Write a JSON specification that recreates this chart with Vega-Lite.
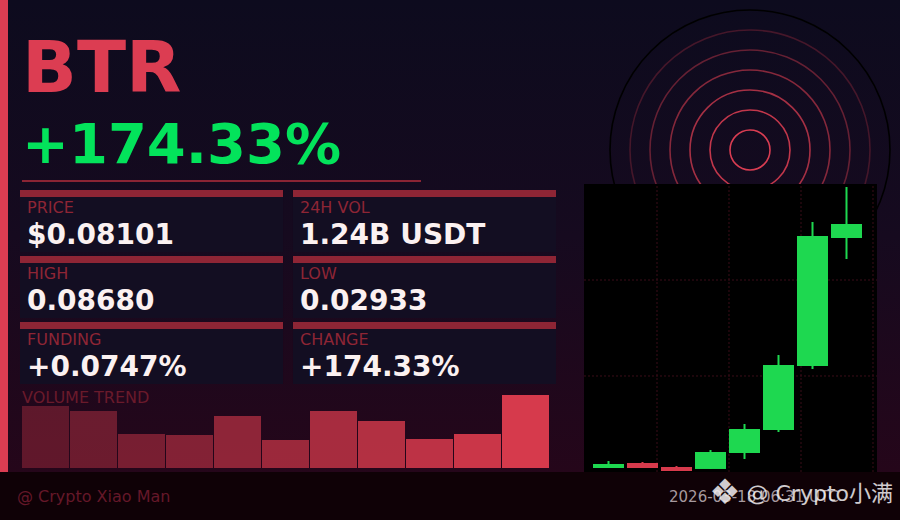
{
  "$schema": "https://vega.github.io/schema/vega-lite/v6.json",
  "width": 900,
  "height": 520,
  "autosize": {"type": "none"},
  "padding": 0,
  "background": "#0f0106",
  "config": {
    "view": {"stroke": null},
    "font": "DejaVu Sans",
    "axis": {"disable": true},
    "legend": {"disable": true}
  },
  "resolve": {
    "scale": {"x": "independent", "y": "independent", "color": "independent", "opacity": "independent", "size": "independent"}
  },
  "layer": [
    {
      "data": {"values": [{"area": "backdrop"}]},
      "mark": {
        "type": "rect",
        "color": {
          "gradient": "linear", "x1": 0, "y1": 0, "x2": 0, "y2": 1,
          "stops": [
            {"offset": 0, "color": "#0d0b1e"},
            {"offset": 0.5, "color": "#160a1f"},
            {"offset": 1, "color": "#25061a"}
          ]
        }
      },
      "encoding": {
        "x": {"datum": 0, "type": "quantitative", "scale": {"domain": [0, 1], "range": [0, 900]}},
        "x2": {"datum": 1},
        "y": {"datum": 0, "type": "quantitative", "scale": {"domain": [0, 1], "range": [0, 472]}},
        "y2": {"datum": 1}
      }
    },
    {
      "data": {"values": [{"ring": 1}, {"ring": 2}, {"ring": 3}, {"ring": 4}, {"ring": 5}, {"ring": 6}, {"ring": 7}]},
      "mark": {"type": "point", "shape": "circle", "filled": false, "strokeWidth": 1.6, "opacity": 1},
      "encoding": {
        "x": {"datum": 1, "type": "quantitative", "scale": {"domain": [0, 1], "range": [0, 750]}},
        "y": {"datum": 1, "type": "quantitative", "scale": {"domain": [0, 1], "range": [0, 150]}},
        "size": {"field": "ring", "type": "quantitative", "scale": {"type": "pow", "exponent": 2, "domain": [0, 7], "range": [0, 78400]}},
        "color": {
          "field": "ring", "type": "ordinal",
          "scale": {"domain": [1, 2, 3, 4, 5, 6, 7], "range": ["#d93d52", "#c2374b", "#a53044", "#85283b", "#652033", "#45172a", "#000000"]}
        }
      }
    },
    {
      "data": {"values": [{"area": "accent"}]},
      "mark": {"type": "rect", "color": "#dc3d52"},
      "encoding": {
        "x": {"datum": 0, "type": "quantitative", "scale": {"domain": [0, 1], "range": [0, 8]}},
        "x2": {"datum": 1},
        "y": {"datum": 0, "type": "quantitative", "scale": {"domain": [0, 1], "range": [0, 472]}},
        "y2": {"datum": 1}
      }
    },
    {
      "data": {"values": [{"symbol": "BTR", "change": "+174.33%"}]},
      "layer": [
        {
          "mark": {"type": "text", "align": "left", "baseline": "alphabetic", "fontSize": 72, "fontWeight": "bold", "color": "#dc3d52"},
          "encoding": {
            "x": {"datum": 0, "type": "quantitative", "scale": {"domain": [0, 1], "range": [22, 421]}},
            "y": {"datum": 0, "type": "quantitative", "scale": {"domain": [0, 1], "range": [92, 163]}},
            "text": {"field": "symbol"}
          }
        },
        {
          "mark": {"type": "text", "align": "left", "baseline": "alphabetic", "fontSize": 56, "fontWeight": "bold", "color": "#03e35b"},
          "encoding": {
            "x": {"datum": 0, "type": "quantitative", "scale": {"domain": [0, 1], "range": [22, 421]}},
            "y": {"datum": 1, "type": "quantitative", "scale": {"domain": [0, 1], "range": [92, 163]}},
            "text": {"field": "change"}
          }
        }
      ]
    },
    {
      "data": {"values": [{"area": "divider"}]},
      "mark": {"type": "rule", "color": "#8b2434", "strokeWidth": 2},
      "encoding": {
        "x": {"datum": 0, "type": "quantitative", "scale": {"domain": [0, 1], "range": [22, 421]}},
        "x2": {"datum": 1},
        "y": {"datum": 0, "type": "quantitative", "scale": {"domain": [0, 1], "range": [181, 520]}}
      }
    },
    {
      "data": {
        "values": [
          {"left_label": "PRICE", "left_value": "$0.08101", "right_label": "24H VOL", "right_value": "1.24B USDT"},
          {"left_label": "HIGH", "left_value": "0.08680", "right_label": "LOW", "right_value": "0.02933"},
          {"left_label": "FUNDING", "left_value": "+0.0747%", "right_label": "CHANGE", "right_value": "+174.33%"}
        ]
      },
      "layer": [
        {
          "mark": {"type": "rect", "color": "#130e22"},
          "encoding": {
            "x": {"datum": "left", "type": "nominal", "scale": {"domain": ["left", "right"], "range": [20, 556], "paddingInner": 0.0366, "paddingOuter": 0}},
            "y": {"field": "left_label", "type": "nominal", "sort": null, "scale": {"domain": ["PRICE", "HIGH", "FUNDING"], "range": [190, 384], "paddingInner": 0.0606, "paddingOuter": 0}}
          }
        },
        {
          "mark": {"type": "rect", "color": "#130e22"},
          "encoding": {
            "x": {"datum": "right", "type": "nominal", "scale": {"domain": ["left", "right"], "range": [20, 556], "paddingInner": 0.0366, "paddingOuter": 0}},
            "y": {"field": "left_label", "type": "nominal", "sort": null, "scale": {"domain": ["PRICE", "HIGH", "FUNDING"], "range": [190, 384], "paddingInner": 0.0606, "paddingOuter": 0}}
          }
        },
        {
          "mark": {"type": "rect", "color": "#8e2535", "height": 7, "baseline": "top"},
          "encoding": {
            "x": {"datum": "left", "type": "nominal", "scale": {"domain": ["left", "right"], "range": [20, 556], "paddingInner": 0.0366, "paddingOuter": 0}},
            "y": {"field": "left_label", "type": "nominal", "sort": null, "scale": {"domain": ["PRICE", "HIGH", "FUNDING"], "range": [190, 384], "paddingInner": 0.0606, "paddingOuter": 0}}
          }
        },
        {
          "mark": {"type": "rect", "color": "#8e2535", "height": 7, "baseline": "top"},
          "encoding": {
            "x": {"datum": "right", "type": "nominal", "scale": {"domain": ["left", "right"], "range": [20, 556], "paddingInner": 0.0366, "paddingOuter": 0}},
            "y": {"field": "left_label", "type": "nominal", "sort": null, "scale": {"domain": ["PRICE", "HIGH", "FUNDING"], "range": [190, 384], "paddingInner": 0.0606, "paddingOuter": 0}}
          }
        },
        {
          "mark": {"type": "text", "align": "left", "baseline": "alphabetic", "dx": 7, "dy": 23, "fontSize": 16, "color": "#8e2535"},
          "encoding": {
            "x": {"datum": "left", "type": "nominal", "bandPosition": 0, "scale": {"domain": ["left", "right"], "range": [20, 556], "paddingInner": 0.0366, "paddingOuter": 0}},
            "y": {"field": "left_label", "type": "nominal", "sort": null, "bandPosition": 0, "scale": {"domain": ["PRICE", "HIGH", "FUNDING"], "range": [190, 384], "paddingInner": 0.0606, "paddingOuter": 0}},
            "text": {"field": "left_label"}
          }
        },
        {
          "mark": {"type": "text", "align": "left", "baseline": "alphabetic", "dx": 7, "dy": 23, "fontSize": 16, "color": "#8e2535"},
          "encoding": {
            "x": {"datum": "right", "type": "nominal", "bandPosition": 0, "scale": {"domain": ["left", "right"], "range": [20, 556], "paddingInner": 0.0366, "paddingOuter": 0}},
            "y": {"field": "left_label", "type": "nominal", "sort": null, "bandPosition": 0, "scale": {"domain": ["PRICE", "HIGH", "FUNDING"], "range": [190, 384], "paddingInner": 0.0606, "paddingOuter": 0}},
            "text": {"field": "right_label"}
          }
        },
        {
          "mark": {"type": "text", "align": "left", "baseline": "alphabetic", "dx": 7, "dy": 54, "fontSize": 28, "fontWeight": "bold", "color": "#fbf1f1"},
          "encoding": {
            "x": {"datum": "left", "type": "nominal", "bandPosition": 0, "scale": {"domain": ["left", "right"], "range": [20, 556], "paddingInner": 0.0366, "paddingOuter": 0}},
            "y": {"field": "left_label", "type": "nominal", "sort": null, "bandPosition": 0, "scale": {"domain": ["PRICE", "HIGH", "FUNDING"], "range": [190, 384], "paddingInner": 0.0606, "paddingOuter": 0}},
            "text": {"field": "left_value"}
          }
        },
        {
          "mark": {"type": "text", "align": "left", "baseline": "alphabetic", "dx": 7, "dy": 54, "fontSize": 28, "fontWeight": "bold", "color": "#fbf1f1"},
          "encoding": {
            "x": {"datum": "right", "type": "nominal", "bandPosition": 0, "scale": {"domain": ["left", "right"], "range": [20, 556], "paddingInner": 0.0366, "paddingOuter": 0}},
            "y": {"field": "left_label", "type": "nominal", "sort": null, "bandPosition": 0, "scale": {"domain": ["PRICE", "HIGH", "FUNDING"], "range": [190, 384], "paddingInner": 0.0606, "paddingOuter": 0}},
            "text": {"field": "right_value"}
          }
        }
      ]
    },
    {
      "data": {"values": [{"section": "VOLUME TREND"}]},
      "mark": {"type": "text", "align": "left", "baseline": "alphabetic", "fontSize": 16, "color": "#6a1a2b"},
      "encoding": {
        "x": {"datum": 0, "type": "quantitative", "scale": {"domain": [0, 1], "range": [22, 900]}},
        "y": {"datum": 0, "type": "quantitative", "scale": {"domain": [0, 1], "range": [403, 520]}},
        "text": {"field": "section"}
      }
    },
    {
      "data": {
        "values": [
          {"t": 1, "volume": 124}, {"t": 2, "volume": 114}, {"t": 3, "volume": 68}, {"t": 4, "volume": 66},
          {"t": 5, "volume": 104}, {"t": 6, "volume": 56}, {"t": 7, "volume": 114}, {"t": 8, "volume": 94},
          {"t": 9, "volume": 58}, {"t": 10, "volume": 68}, {"t": 11, "volume": 146}
        ]
      },
      "mark": {"type": "bar", "color": "#d63a4c"},
      "encoding": {
        "x": {"field": "t", "type": "ordinal", "scale": {"range": [22, 549], "paddingInner": 0.0208, "paddingOuter": 0}},
        "y": {"field": "volume", "type": "quantitative", "scale": {"range": [468, 395], "nice": false}},
        "opacity": {"field": "t", "type": "quantitative", "scale": {"domain": [1, 11], "range": [0.34, 1]}}
      }
    },
    {
      "data": {"values": [{"area": "candle panel"}]},
      "mark": {"type": "rect", "color": "#000000"},
      "encoding": {
        "x": {"datum": 0, "type": "quantitative", "scale": {"domain": [0, 1], "range": [584, 877]}},
        "x2": {"datum": 1},
        "y": {"datum": 0, "type": "quantitative", "scale": {"domain": [0, 1], "range": [184, 472]}},
        "y2": {"datum": 1}
      }
    },
    {
      "data": {
        "values": [
          {"i": 1, "open": 0.02994, "high": 0.03135, "low": 0.02994, "close": 0.03075},
          {"i": 2, "open": 0.03095, "high": 0.03115, "low": 0.02994, "close": 0.02994},
          {"i": 3, "open": 0.03014, "high": 0.03034, "low": 0.02933, "close": 0.02933},
          {"i": 4, "open": 0.02974, "high": 0.03358, "low": 0.02974, "close": 0.03317},
          {"i": 5, "open": 0.03297, "high": 0.03884, "low": 0.03176, "close": 0.03783},
          {"i": 6, "open": 0.03763, "high": 0.05280, "low": 0.03722, "close": 0.05078},
          {"i": 7, "open": 0.05058, "high": 0.07972, "low": 0.04997, "close": 0.07688},
          {"i": 8, "open": 0.07648, "high": 0.08680, "low": 0.07223, "close": 0.07931}
        ]
      },
      "layer": [
        {
          "data": {"values": [{"grid": "line"}]},
          "layer": [
            {
              "mark": {"type": "rule", "color": "#3b0d18", "strokeDash": [2, 2], "strokeWidth": 1},
              "encoding": {
                "x": {"datum": 2.4265, "type": "quantitative", "scale": {"domain": [0.2794, 8.8971], "range": [584, 877], "nice": false, "zero": false, "padding": 0}},
                "y": {"datum": 0.029127, "type": "quantitative", "scale": {"domain": [0.029127, 0.087407], "range": [472, 184], "nice": false, "zero": false, "padding": 0}},
                "y2": {"datum": 0.087407}
              }
            },
            {
              "mark": {"type": "rule", "color": "#3b0d18", "strokeDash": [2, 2], "strokeWidth": 1},
              "encoding": {
                "x": {"datum": 4.5441, "type": "quantitative", "scale": {"domain": [0.2794, 8.8971], "range": [584, 877], "nice": false, "zero": false, "padding": 0}},
                "y": {"datum": 0.029127, "type": "quantitative", "scale": {"domain": [0.029127, 0.087407], "range": [472, 184], "nice": false, "zero": false, "padding": 0}},
                "y2": {"datum": 0.087407}
              }
            },
            {
              "mark": {"type": "rule", "color": "#3b0d18", "strokeDash": [2, 2], "strokeWidth": 1},
              "encoding": {
                "x": {"datum": 6.6618, "type": "quantitative", "scale": {"domain": [0.2794, 8.8971], "range": [584, 877], "nice": false, "zero": false, "padding": 0}},
                "y": {"datum": 0.029127, "type": "quantitative", "scale": {"domain": [0.029127, 0.087407], "range": [472, 184], "nice": false, "zero": false, "padding": 0}},
                "y2": {"datum": 0.087407}
              }
            },
            {
              "mark": {"type": "rule", "color": "#3b0d18", "strokeDash": [2, 2], "strokeWidth": 1},
              "encoding": {
                "x": {"datum": 8.7794, "type": "quantitative", "scale": {"domain": [0.2794, 8.8971], "range": [584, 877], "nice": false, "zero": false, "padding": 0}},
                "y": {"datum": 0.029127, "type": "quantitative", "scale": {"domain": [0.029127, 0.087407], "range": [472, 184], "nice": false, "zero": false, "padding": 0}},
                "y2": {"datum": 0.087407}
              }
            },
            {
              "mark": {"type": "rule", "color": "#3b0d18", "strokeDash": [2, 2], "strokeWidth": 1},
              "encoding": {
                "x": {"datum": 0.2794, "type": "quantitative", "scale": {"domain": [0.2794, 8.8971], "range": [584, 877], "nice": false, "zero": false, "padding": 0}},
                "x2": {"datum": 8.8971},
                "y": {"datum": 0.06798, "type": "quantitative", "scale": {"domain": [0.029127, 0.087407], "range": [472, 184], "nice": false, "zero": false, "padding": 0}}
              }
            },
            {
              "mark": {"type": "rule", "color": "#3b0d18", "strokeDash": [2, 2], "strokeWidth": 1},
              "encoding": {
                "x": {"datum": 0.2794, "type": "quantitative", "scale": {"domain": [0.2794, 8.8971], "range": [584, 877], "nice": false, "zero": false, "padding": 0}},
                "x2": {"datum": 8.8971},
                "y": {"datum": 0.048554, "type": "quantitative", "scale": {"domain": [0.029127, 0.087407], "range": [472, 184], "nice": false, "zero": false, "padding": 0}}
              }
            }
          ]
        },
        {
          "mark": {"type": "rule", "strokeWidth": 2},
          "encoding": {
            "x": {"field": "i", "type": "quantitative", "scale": {"domain": [0.2794, 8.8971], "range": [584, 877], "nice": false, "zero": false, "padding": 0}},
            "y": {"field": "low", "type": "quantitative", "scale": {"domain": [0.029127, 0.087407], "range": [472, 184], "nice": false, "zero": false, "padding": 0}},
            "y2": {"field": "high"},
            "color": {"condition": {"test": "datum.close >= datum.open", "value": "#1ed850"}, "value": "#d63a4c"}
          }
        },
        {
          "mark": {"type": "bar", "size": 31, "orient": "vertical"},
          "encoding": {
            "x": {"field": "i", "type": "quantitative", "scale": {"domain": [0.2794, 8.8971], "range": [584, 877], "nice": false, "zero": false, "padding": 0}},
            "y": {"field": "open", "type": "quantitative", "scale": {"domain": [0.029127, 0.087407], "range": [472, 184], "nice": false, "zero": false, "padding": 0}},
            "y2": {"field": "close"},
            "color": {"condition": {"test": "datum.close >= datum.open", "value": "#1ed850"}, "value": "#d63a4c"}
          }
        }
      ]
    },
    {
      "data": {"values": [{"handle": "@ Crypto Xiao Man"}]},
      "mark": {"type": "text", "align": "left", "baseline": "alphabetic", "fontSize": 16, "color": "#651829"},
      "encoding": {
        "x": {"datum": 0, "type": "quantitative", "scale": {"domain": [0, 1], "range": [17, 900]}},
        "y": {"datum": 0, "type": "quantitative", "scale": {"domain": [0, 1], "range": [502, 520]}},
        "text": {"field": "handle"}
      }
    },
    {
      "data": {"values": [{"time": "2026-03-18 06:31 UTC"}]},
      "mark": {"type": "text", "align": "left", "baseline": "alphabetic", "fontSize": 15, "color": "#a6999e"},
      "encoding": {
        "x": {"datum": 0, "type": "quantitative", "scale": {"domain": [0, 1], "range": [669, 900]}},
        "y": {"datum": 0, "type": "quantitative", "scale": {"domain": [0, 1], "range": [502, 520]}},
        "text": {"field": "time"}
      }
    },
    {
      "data": {"values": [{"logo": "❖"}]},
      "mark": {"type": "text", "align": "center", "baseline": "middle", "fontSize": 35, "color": "#f2eff1", "opacity": 0.85},
      "encoding": {
        "x": {"datum": 0, "type": "quantitative", "scale": {"domain": [0, 1], "range": [725, 900]}},
        "y": {"datum": 0, "type": "quantitative", "scale": {"domain": [0, 1], "range": [493, 520]}},
        "text": {"field": "logo"}
      }
    },
    {
      "data": {"values": [{"watermark": "@ Crypto小满"}]},
      "mark": {"type": "text", "align": "right", "baseline": "alphabetic", "fontSize": 22, "font": "DejaVu Sans, Noto Sans CJK SC", "color": "#f2eff1", "opacity": 0.85},
      "encoding": {
        "x": {"datum": 0, "type": "quantitative", "scale": {"domain": [0, 1], "range": [893, 900]}},
        "y": {"datum": 0, "type": "quantitative", "scale": {"domain": [0, 1], "range": [501, 520]}},
        "text": {"field": "watermark"}
      }
    }
  ]
}
